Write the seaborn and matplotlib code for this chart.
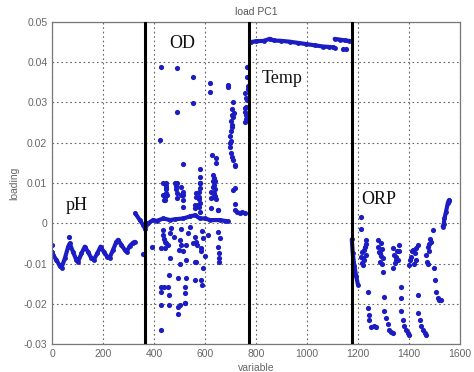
import numpy as np
import matplotlib
matplotlib.use('Agg')
import matplotlib.pyplot as plt
import seaborn as sns

# pH block: wavy loading line
ph_x = [1, 4, 17, 30, 37, 50, 63, 69, 82, 95, 102, 115, 128, 141, 154, 163, 177, 190,
        203, 216, 226, 239, 252, 259, 272, 285, 292, 305, 318, 324]
ph_y = [-0.0071, -0.0079, -0.0091, -0.0106, -0.0110, -0.0087, -0.0058, -0.0050, -0.0071,
        -0.0091, -0.0095, -0.0075, -0.0058, -0.0071, -0.0087, -0.0091, -0.0075, -0.0058,
        -0.0071, -0.0083, -0.0085, -0.0066, -0.0046, -0.0041, -0.0054, -0.0066, -0.0071,
        -0.0056, -0.0048, -0.0046]
ph_dot_x = [1, 67]
ph_dot_y = [-0.0054, -0.0035]

# OD block: baseline near zero plus scattered columns
od_line_x = [326, 344, 357, 364, 377, 396, 410, 437, 463, 482, 515, 541, 561, 580, 599,
             620, 659, 678, 690]
od_line_y = [0.0025, 0.0008, -0.0004, -0.0013, 0.0000, 0.0008, 0.0006, 0.0012, 0.0008,
             0.0010, 0.0012, 0.0017, 0.0020, 0.0012, 0.0012, 0.0008, 0.0008, 0.0006, 0.0005]
od_x = [426, 489, 554, 554, 491, 425, 619, 619, 689, 691, 711, 712, 711, 705, 702, 698,
        626, 642, 644, 514, 579, 719, 717, 717, 632, 636, 640, 579, 579, 448, 446, 447, 445,
        482, 490, 488, 490, 566,
        763, 765, 767, 770, 757, 760, 766, 762, 758, 756, 759, 761, 757,
        435, 435, 442, 507, 507, 514, 566, 573, 579, 632, 632, 651, 710, 716,
        442, 440, 514, 514, 514, 577, 575, 579, 578, 579, 625, 625, 625, 651, 717,
        560, 562, 724, 736, 746, 756,
        704, 707, 702, 706, 700, 703, 698, 701, 705, 708,
        634, 638, 636, 640, 643, 630, 445, 449, 486, 492, 582, 576,
        436, 437, 462, 442, 448, 455, 429, 442, 390, 357, 501, 507, 498, 527, 533, 560, 566,
        570, 586, 586, 592, 651, 658, 651, 655, 654, 654, 462, 501, 527, 560, 566, 592,
        459, 494, 524, 560, 586, 588, 429, 438, 455, 429, 459, 520, 522, 520, 523, 429,
        459, 494, 500, 494, 429,
        440, 468, 480, 505, 515, 540, 552, 590, 600, 610]
od_y = [0.0387, 0.0385, 0.0364, 0.0298, 0.0276, 0.0207, 0.0348, 0.0327, 0.0343, 0.0338,
        0.0302, 0.0273, 0.0263, 0.0240, 0.0230, 0.0199,
        0.0170, 0.0161, 0.0149, 0.0147, 0.0136, 0.0142, 0.0145, 0.0087, 0.0120, 0.0112,
        0.0105, 0.0116, 0.0100, 0.0099, 0.0092, 0.0084, 0.0076, 0.0100, 0.0100, 0.0085,
        0.0076, 0.0075,
        0.0389, 0.0364, 0.0340, 0.0333, 0.0323, 0.0311, 0.0306, 0.0290, 0.0286, 0.0277,
        0.0269, 0.0260, 0.0252,
        0.0099, 0.0070, 0.0058, 0.0091, 0.0070, 0.0041, 0.0066, 0.0045, 0.0099, 0.0091,
        0.0066, 0.0033, 0.0082, 0.0033,
        0.0066, 0.0058, 0.0078, 0.0070, 0.0058, 0.0078, 0.0066, 0.0050, 0.0041, 0.0029,
        0.0078, 0.0062, 0.0037, 0.0033, 0.0048,
        0.0045, 0.0037, 0.0029, 0.0025, 0.0027, 0.0025,
        0.0285, 0.0270, 0.0255, 0.0245, 0.0218, 0.0205, 0.0190, 0.0175, 0.0165, 0.0158,
        0.0095, 0.0085, 0.0075, 0.0068, 0.0060, 0.0104, 0.0088, 0.0070, 0.0092, 0.0064,
        0.0088, 0.0060,
        -0.0017, -0.0030, -0.0025, -0.0046, -0.0050, -0.0054, -0.0062, -0.0062, -0.0060,
        -0.0077, -0.0042, -0.0054, -0.0066, -0.0054, -0.0025, -0.0033, -0.0046, -0.0054,
        -0.0062, -0.0070, -0.0037, -0.0021, -0.0037, -0.0058, -0.0075, -0.0087, -0.0095,
        -0.0087, -0.0100, -0.0090, -0.0095, -0.0095, -0.0110,
        -0.0129, -0.0137, -0.0137, -0.0141, -0.0141, -0.0153, -0.0157, -0.0157, -0.0157,
        -0.0170, -0.0178, -0.0157, -0.0174, -0.0199, -0.0197, -0.0203, -0.0203, -0.0207,
        -0.0203, -0.0225, -0.0265,
        -0.0040, -0.0012, -0.0035, -0.0015, -0.0068, -0.0010, -0.0048, -0.0020, -0.0082,
        -0.0028]

# Temp block
temp1_x = [779, 800, 830, 854, 870, 900, 932, 965, 998, 1030, 1063, 1085, 1102, 1109]
temp1_y = [0.0450, 0.0452, 0.0453, 0.0458, 0.0454, 0.0453, 0.0451, 0.0448, 0.0445, 0.0442,
           0.0439, 0.0438, 0.0437, 0.0436]
temp2_x = [1109, 1130, 1150, 1167]
temp2_y = [0.0458, 0.0456, 0.0454, 0.0453]
temp_dot_x = [1141, 1154]
temp_dot_y = [0.0434, 0.0434]

# ORP block
orp_line_x = [1176, 1180, 1186, 1193, 1200]
orp_line_y = [-0.0040, -0.0075, -0.0105, -0.0130, -0.0152]
orp_end_x = [1533, 1537, 1540, 1546, 1553, 1556, 1559]
orp_end_y = [-0.0008, -0.0002, 0.0012, 0.0029, 0.0050, 0.0056, 0.0058]
orp_x = [1213, 1213, 1233, 1226, 1213, 1220, 1233, 1224, 1229, 1218, 1216, 1230, 1222,
         1239, 1239, 1243, 1245, 1252, 1262, 1272,
         1278, 1291, 1285, 1298, 1282, 1298, 1288, 1294, 1280, 1290, 1296,
         1304, 1304, 1311, 1317, 1324, 1330, 1337,
         1337, 1363, 1350, 1345, 1355, 1337, 1358, 1370, 1342, 1348, 1360,
         1370, 1370, 1376, 1383, 1389, 1396, 1402,
         1435, 1416, 1410, 1425, 1402, 1430, 1420, 1435, 1406, 1414, 1428,
         1435, 1442, 1448, 1455, 1462, 1468,
         1494, 1487, 1474, 1468, 1470, 1474, 1481, 1478, 1484,
         1500, 1504, 1507, 1514, 1520, 1527]
orp_y = [0.0015, -0.0015, -0.0042, -0.0066, -0.0083, -0.0104, -0.0079, -0.0091, -0.0060,
         -0.0098, -0.0072, -0.0052, -0.0085,
         -0.0170, -0.0211, -0.0228, -0.0240, -0.0257, -0.0255, -0.0257,
         -0.0042, -0.0050, -0.0075, -0.0087, -0.0071, -0.0120, -0.0095, -0.0065, -0.0058,
         -0.0082, -0.0102,
         -0.0182, -0.0219, -0.0236, -0.0250, -0.0265, -0.0270, -0.0273,
         -0.0062, -0.0054, -0.0083, -0.0099, -0.0070, -0.0112, -0.0090, -0.0157, -0.0078,
         -0.0092, -0.0068,
         -0.0186, -0.0219, -0.0240, -0.0255, -0.0265, -0.0272, -0.0277,
         -0.0054, -0.0066, -0.0083, -0.0075, -0.0104, -0.0092, -0.0100, -0.0178, -0.0090,
         -0.0070, -0.0062,
         -0.0224, -0.0240, -0.0255, -0.0265, -0.0272, -0.0277,
         -0.0017, -0.0046, -0.0058, -0.0079, -0.0095, -0.0100, -0.0070, -0.0052, -0.0040,
         -0.0112, -0.0141, -0.0170, -0.0186, -0.0190, -0.0190]

boundaries = [365, 774, 1175]
labels = ['pH', 'OD', 'Temp', 'ORP']
label_x = [95, 512, 903, 1283]
label_y = [0.0043, 0.0447, 0.0360, 0.0058]

sns.set_style('white')
plt.rcParams['font.family'] = ['Liberation Sans', 'DejaVu Sans']

blue = '#1c1cc4'
fig = plt.figure(figsize=(4.74, 3.72), dpi=100)
ax = fig.add_axes([0.110, 0.075, 0.860, 0.866])

for lx, ly in [(ph_x, ph_y), (od_line_x, od_line_y), (temp1_x, temp1_y),
               (temp2_x, temp2_y), (orp_line_x, orp_line_y), (orp_end_x, orp_end_y)]:
    sns.lineplot(x=lx, y=ly, ax=ax, color=blue, lw=3.0, sort=False, estimator=None,
                 marker='o', markersize=3.5, markeredgewidth=0)

for sx, sy in [(ph_dot_x, ph_dot_y), (od_x, od_y), (temp_dot_x, temp_dot_y), (orp_x, orp_y)]:
    sns.scatterplot(x=sx, y=sy, ax=ax, color=blue, s=14, linewidth=0)

for b in boundaries:
    ax.axvline(b, color='black', lw=2.2, zorder=5)

for t, tx, ty in zip(labels, label_x, label_y):
    ax.text(tx, ty, t, ha='center', va='center', fontsize=13,
            family=['Liberation Serif', 'DejaVu Serif'], color='#111111', zorder=6)

ax.set_xlim(0, 1600)
ax.set_ylim(-0.03, 0.05)
ax.set_xticks(np.arange(0, 1601, 200))
ax.set_yticks(np.arange(-0.03, 0.0501, 0.01))
ax.set_yticklabels(['-0.03', '-0.02', '-0.01', '0', '0.01', '0.02', '0.03', '0.04', '0.05'])
ax.grid(True, linestyle=(0, (1.5, 2.5)), color='#666666', lw=0.8)
ax.tick_params(direction='in', length=3, labelsize=7.5, colors='#666666', labelcolor='#666666')
for s in ax.spines.values():
    s.set_color('#777777')
    s.set_linewidth(0.9)

ax.set_title('load PC1', fontsize=7.5, color='#555555', pad=5)
ax.set_xlabel('variable', fontsize=7.5, color='#666666', labelpad=3)
ax.set_ylabel('loading', fontsize=7.5, color='#666666', labelpad=3)

plt.savefig('out.png', dpi=100)
